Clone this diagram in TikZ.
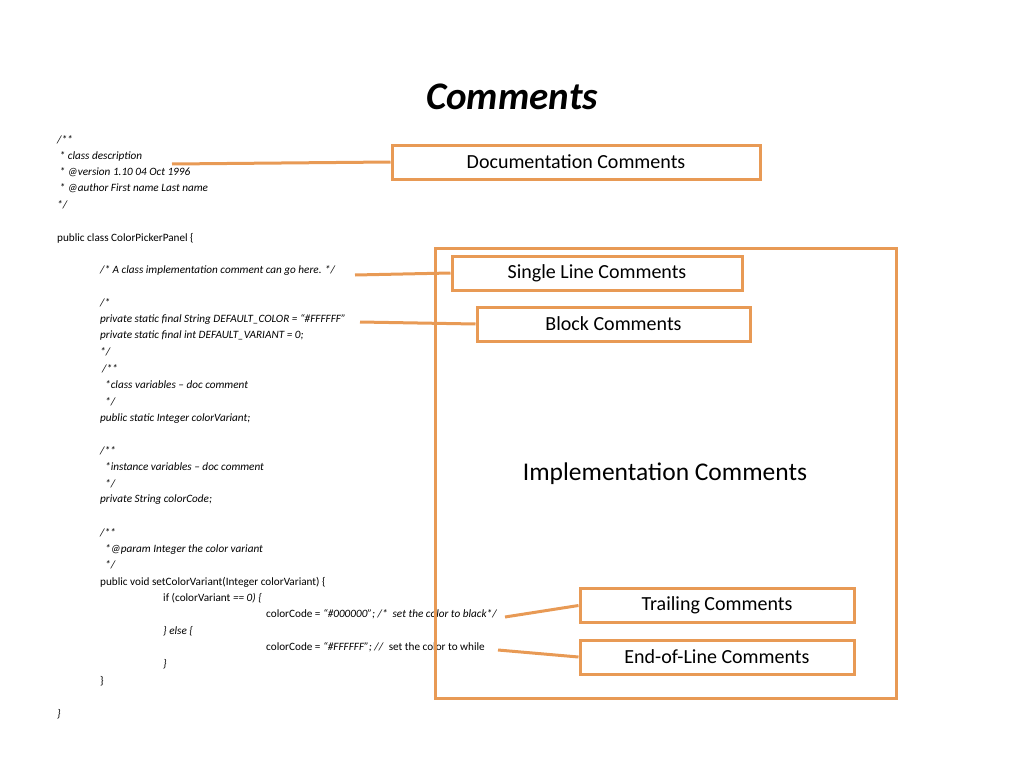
\documentclass[tikz,border=0pt]{standalone}
\usepackage{fontspec}
\setmainfont{Carlito}
\begin{document}
\begin{tikzpicture}[x=1pt,y=-1pt,
  ob/.style={draw=obc, line width=3pt},
  lbl/.style={ob, minimum height=34pt, font=\fontsize{20}{23}\selectfont},
  cd/.style={anchor=west, inner sep=0pt, font=\fontsize{11.2}{13}\selectfont},
  ci/.style={cd, font=\fontsize{11.2}{13}\selectfont\itshape}]
\definecolor{obc}{HTML}{E89A55}
\useasboundingbox (0,0) rectangle (1024,768);
\node[font=\fontsize{39}{44}\selectfont\bfseries\itshape] (title) at (512,97) {Comments};
% code
\node[ci] (c1) at (57,140) {/**};
\node[ci] (c2) at (57,156) {\ * class description};
\node[ci] (c3) at (57,172) {\ * @version 1.10 04 Oct 1996};
\node[ci] (c4) at (57,188) {\ * @author First name Last name};
\node[ci] (c5) at (57,205) {*/};
\node[cd] (c6) at (57,238) {public class ColorPickerPanel \{};
\node[ci] (c7) at (100,270) {/* A class implementation comment can go here. */};
\node[ci] (c8) at (100,303) {/*};
\node[ci] (c9) at (100,319) {private static final String DEFAULT\_COLOR = “\#FFFFFF”};
\node[ci] (c10) at (100,336) {private static final int DEFAULT\_VARIANT = 0;};
\node[ci] (c11) at (100,352) {*/};
\node[ci] (c12) at (102,369) {/**};
\node[ci] (c13) at (105,385) {*class variables – doc comment};
\node[ci] (c14) at (105,402) {*/};
\node[ci] (c15) at (100,419) {public static Integer colorVariant;};
\node[ci] (c16) at (100,451) {/**};
\node[ci] (c17) at (105,467) {*instance variables – doc comment};
\node[ci] (c18) at (105,484) {*/};
\node[ci] (c19) at (100,500) {private String colorCode;};
\node[ci] (c20) at (100,533) {/**};
\node[ci] (c21) at (105,549) {*@param Integer the color variant};
\node[ci] (c22) at (105,565) {*/};
\node[cd] (c23) at (100,582) {public void setColorVariant(Integer colorVariant) \{};
\node[cd] (c24) at (163,598) {if (colorVariant \textit{== 0) \{}};
\node[cd] (c25) at (266,614) {colorCode = \textit{“\#000000”; /*\ \ set the color to black*/}};
\node[ci] (c26) at (163,631) {\} else \{};
\node[cd] (c27) at (266,647) {colorCode = \textit{“\#FFFFFF”; //}\ \ set the color to while};
\node[ci] (c28) at (163,664) {\}};
\node[cd] (c29) at (100,681) {\}};
\node[ci] (c30) at (57,714) {\}};
\coordinate (e2) at (172,164);
\coordinate (e7) at (355,275);
\coordinate (e9) at (360,322);
\coordinate (e25) at (505,617);
\coordinate (e27) at (498,650);
% big box
\node[ob, minimum width=461pt, minimum height=450pt, inner sep=0pt] (impl) at (665.5,473) {};
\node[font=\fontsize{25.5}{29}\selectfont] (implt) at (665,474) {Implementation Comments};
\node[lbl, fill=white, minimum width=368pt] (doc) at (576,162) {Documentation Comments};
\node[lbl, fill=white, minimum width=290pt] (single) at (597,273) {Single Line Comments};
\node[lbl, fill=white, minimum width=273pt] (block) at (613.5,324) {Block Comments};
\node[lbl, fill=white, minimum width=274pt] (trail) at (717,605.5) {Trailing Comments};
\node[lbl, fill=white, minimum width=274pt] (eol) at (717,657) {End-of-Line Comments};
\draw[ob] (e2) -- (doc.west);
\draw[ob] (e7) -- (single.west);
\draw[ob] (e9) -- (block.west);
\draw[ob] (e25) -- (trail.west);
\draw[ob] (e27) -- (eol.west);
\end{tikzpicture}
\end{document}
